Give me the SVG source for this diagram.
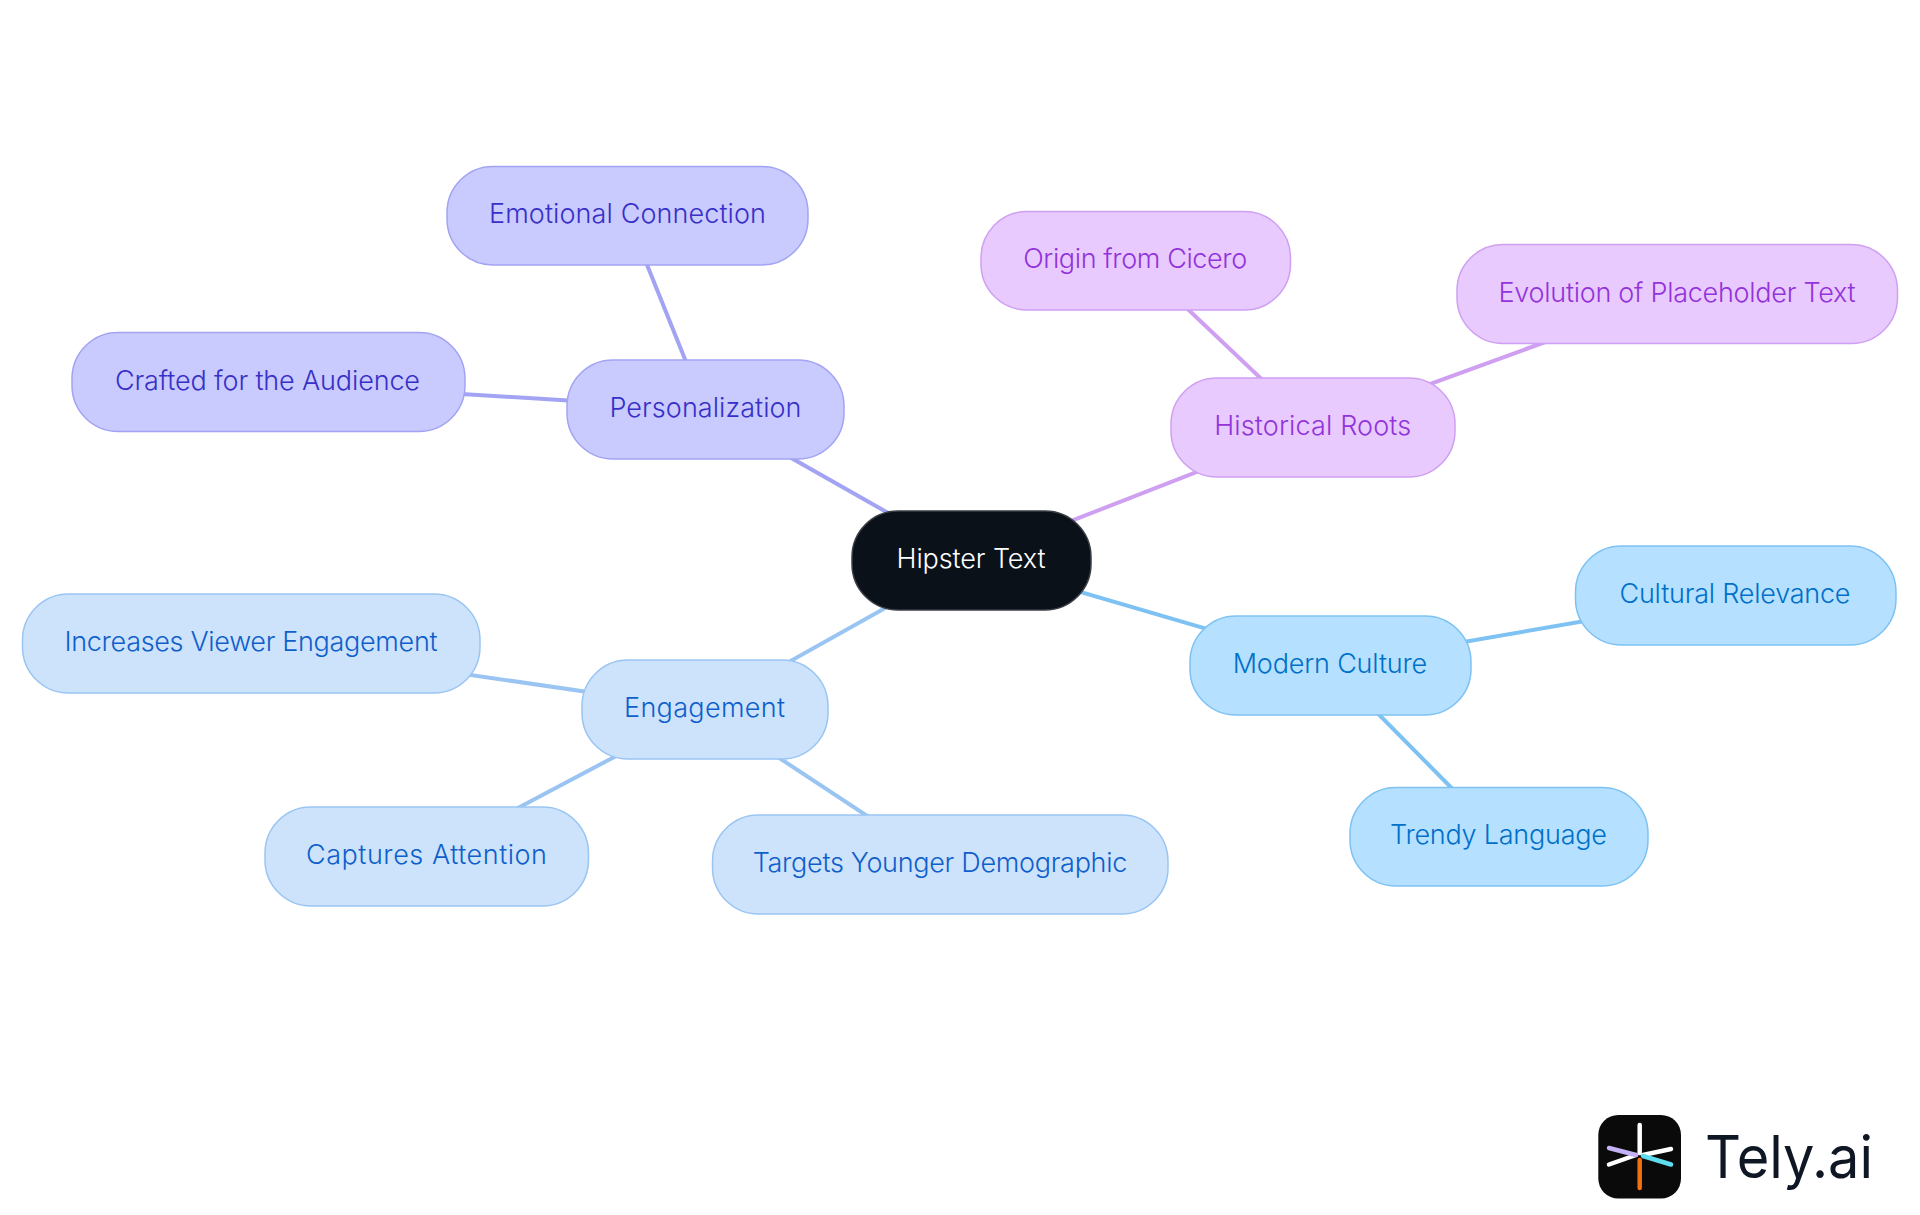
<svg xmlns="http://www.w3.org/2000/svg" width="1920" height="1215" viewBox="0 0 1920 1215">
<style>
text{font-family:Inter,"Noto Sans","Liberation Sans",sans-serif;font-size:27px;font-weight:350;text-anchor:middle}
rect.n{stroke-width:1.5}
.c line{stroke-width:4;stroke-linecap:butt}
.p rect{fill:#c9cafd;stroke:#a2a4f3}.p text{fill:#3730c8}
.e rect{fill:#cde3fc;stroke:#9ac5f2}.e text{fill:#0f5fcb}
.m rect{fill:#b5e0ff;stroke:#7dc2f2}.m text{fill:#0070c8}
.h rect{fill:#e8cafe;stroke:#cfa0f2}.h text{fill:#9333da}
</style>
<rect width="1920" height="1215" fill="#fff"/>
<g id="connectors" class="c">
<g stroke="#a2a4f3"><line x1="971" y1="560" x2="705" y2="409"/><line x1="705" y1="409" x2="627" y2="215"/><line x1="705" y1="409" x2="268" y2="382"/></g>
<g stroke="#cfa0f2"><line x1="971" y1="560" x2="1312" y2="427"/><line x1="1312" y1="427" x2="1136" y2="260"/><line x1="1312" y1="427" x2="1677" y2="294"/></g>
<g stroke="#7dc2f2"><line x1="971" y1="560" x2="1330" y2="665"/><line x1="1330" y1="665" x2="1736" y2="595"/><line x1="1330" y1="665" x2="1499" y2="836"/></g>
<g stroke="#9ac5f2"><line x1="971" y1="560" x2="705" y2="709"/><line x1="705" y1="709" x2="251" y2="643"/><line x1="705" y1="709" x2="427" y2="856"/><line x1="705" y1="709" x2="940" y2="864"/></g>
</g>
<g id="root"><rect class="n" x="852" y="511" width="239" height="99" rx="46" fill="#0b1119" stroke="#3a3f45"/><text x="971" y="568" fill="#fff" textLength="149">Hipster Text</text></g>
<g id="personalization" class="p"><rect class="n" x="567" y="360" width="277" height="99" rx="46"/><text x="705.5" y="417" textLength="192">Personalization</text></g>
<g id="emotional" class="p"><rect class="n" x="447" y="166.5" width="361" height="98.5" rx="46"/><text x="627.5" y="223" textLength="277">Emotional Connection</text></g>
<g id="crafted" class="p"><rect class="n" x="72" y="332.5" width="393" height="99" rx="46"/><text x="267.5" y="389.5" textLength="305">Crafted for the Audience</text></g>
<g id="historical" class="h"><rect class="n" x="1171" y="378" width="284" height="99" rx="46"/><text x="1312.7" y="435" textLength="197">Historical Roots</text></g>
<g id="origin" class="h"><rect class="n" x="981" y="211.5" width="309.5" height="98.5" rx="46"/><text x="1135.2" y="268" textLength="224">Origin from Cicero</text></g>
<g id="evolution" class="h"><rect class="n" x="1457" y="244.5" width="440.5" height="99" rx="46"/><text x="1677" y="301.5" textLength="357">Evolution of Placeholder Text</text></g>
<g id="modern" class="m"><rect class="n" x="1190" y="616" width="281" height="99" rx="46"/><text x="1330" y="673" textLength="194.5">Modern Culture</text></g>
<g id="cultural" class="m"><rect class="n" x="1575.5" y="546" width="320.5" height="99" rx="46"/><text x="1735" y="603" textLength="231">Cultural Relevance</text></g>
<g id="trendy" class="m"><rect class="n" x="1350" y="787.5" width="298" height="98.5" rx="46"/><text x="1498.5" y="844" textLength="217">Trendy Language</text></g>
<g id="engagement" class="e"><rect class="n" x="582" y="660" width="246" height="99" rx="46"/><text x="704.5" y="717" textLength="161">Engagement</text></g>
<g id="increases" class="e"><rect class="n" x="22.5" y="594" width="457.5" height="99" rx="46"/><text x="251" y="651" textLength="373">Increases Viewer Engagement</text></g>
<g id="captures" class="e"><rect class="n" x="265" y="807" width="323.5" height="99" rx="46"/><text x="426.5" y="864" textLength="241">Captures Attention</text></g>
<g id="targets" class="e"><rect class="n" x="712.5" y="815" width="455.5" height="99" rx="46"/><text x="940" y="871.5" textLength="374.6">Targets Younger Demographic</text></g>
<g id="logo">
<rect x="1598.3" y="1115" width="82.7" height="83.5" rx="20" fill="#0a0a0a"/>
<g stroke-width="4.5" stroke-linecap="round" fill="none">
<line x1="1639.7" y1="1125" x2="1639.7" y2="1153" stroke="#fff"/>
<line x1="1609" y1="1164.5" x2="1636" y2="1155" stroke="#fff"/>
<line x1="1671" y1="1149" x2="1643" y2="1155" stroke="#fff"/>
<line x1="1609" y1="1148" x2="1636" y2="1155" stroke="#c4b0f5"/>
<line x1="1671" y1="1164.5" x2="1643" y2="1156" stroke="#5fdcee"/>
<line x1="1639.7" y1="1160" x2="1639.7" y2="1188" stroke="#f2700f"/>
</g>
<text x="1789" y="1178" fill="#0e1723" style="font-size:59px;font-weight:400" textLength="168" lengthAdjust="spacingAndGlyphs">Tely.ai</text>
</g>
</svg>
